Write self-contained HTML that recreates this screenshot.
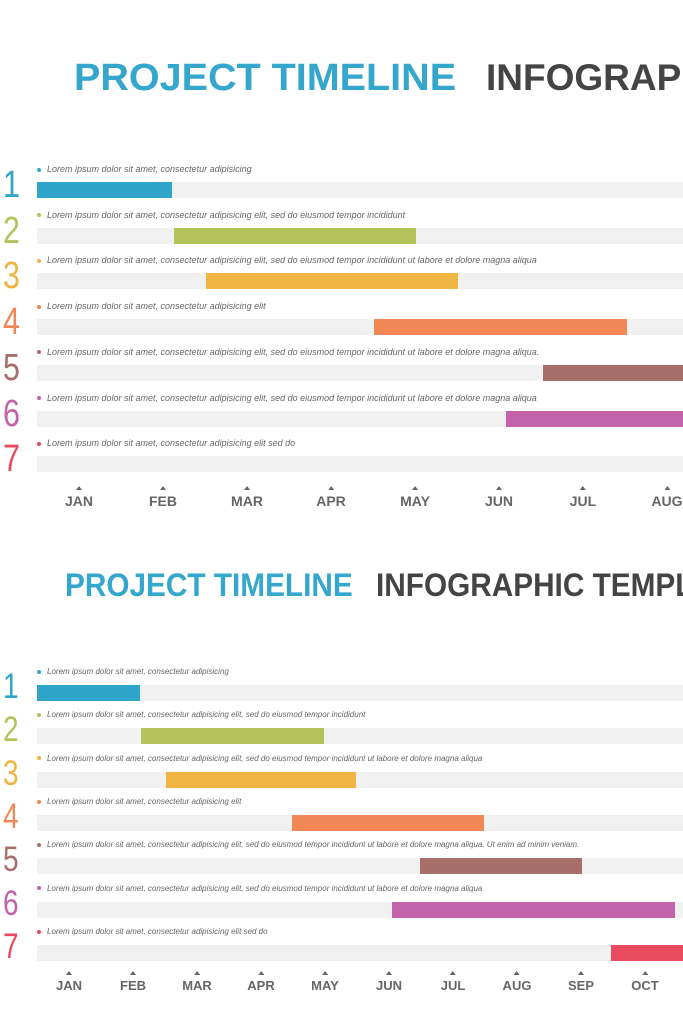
<!DOCTYPE html>
<html><head><meta charset="utf-8"><style>
*{margin:0;padding:0;box-sizing:border-box}
html,body{width:683px;height:1024px;overflow:hidden}
body{background:#fff;position:relative;font-family:"Liberation Sans",sans-serif}
.a{position:absolute;white-space:nowrap}
.t1{font-weight:bold;color:#35a7cc}
.t2{font-weight:bold;color:#444}
.n{font-family:"Liberation Sans Narrow","Liberation Sans",sans-serif;font-weight:normal}
.tr{position:absolute;left:37px;right:0;background:#f1f1f1}
.b{position:absolute}
.tx{font-style:italic;color:#666}
.m{font-weight:bold;color:#666;transform:translateX(-50%);text-align:center}
.m:before{content:"";position:absolute;left:50%;top:-7px;margin-left:-3px;border-left:3px solid transparent;border-right:3px solid transparent;border-bottom:4px solid #666}
.dot{display:inline-block;width:4px;height:4px;border-radius:50%;margin-right:6px;vertical-align:middle}
</style></head><body>
<div style="position:absolute;left:0;top:0;width:683px;height:1024px;overflow:hidden">
<div class="a t1" style="left:74px;top:57px;font-size:38px;transform:scaleX(1.04);transform-origin:left">PROJECT TIMELINE</div>
<div class="a t2" style="left:486px;top:57px;font-size:37px">INFOGRAPHIC</div>

<div id="top"></div>
<div class="a t1" style="left:65px;top:567px;font-size:32px;transform:scaleX(0.93);transform-origin:left">PROJECT TIMELINE</div>
<div class="a t2" style="left:376px;top:567px;font-size:32px;transform:scaleX(0.93);transform-origin:left">INFOGRAPHIC TEMPLATE</div>
</div>
<script>
const cols=["#2fa6c9","#b3c25a","#f0b443","#f08755","#a86e6a","#c362a8","#e84a5f"];
const txt=["Lorem ipsum dolor sit amet, consectetur adipisicing",
"Lorem ipsum dolor sit amet, consectetur adipisicing elit, sed do eiusmod tempor incididunt",
"Lorem ipsum dolor sit amet, consectetur adipisicing elit, sed do eiusmod tempor incididunt ut labore et dolore magna aliqua",
"Lorem ipsum dolor sit amet, consectetur adipisicing elit",
"Lorem ipsum dolor sit amet, consectetur adipisicing elit, sed do eiusmod tempor incididunt ut labore et dolore magna aliqua.",
"Lorem ipsum dolor sit amet, consectetur adipisicing elit, sed do eiusmod tempor incididunt ut labore et dolore magna aliqua",
"Lorem ipsum dolor sit amet, consectetur adipisicing elit sed do"];
const txt2=txt.slice();txt2[4]=txt[4]+" Ut enim ad minim veniam.";
let h="";
function sec(t0,pitch,barH,bars,fs,numFs,texts,months,m0,mstep,my,mfs){
 for(let i=0;i<7;i++){
  const ty=t0+i*pitch, by=ty+13;
  h+=`<div class="a tx" style="left:37px;top:${ty-6}px;font-size:${fs}px;line-height:12px"><span class="dot" style="background:${cols[i]}"></span>${texts[i]}</div>`;
  h+=`<div class="tr" style="top:${by}px;height:${barH}px"></div>`;
  if(bars[i])h+=`<div class="b" style="left:${bars[i][0]}px;width:${bars[i][1]-bars[i][0]}px;top:${by}px;height:${barH}px;background:${cols[i]}"></div>`;
  h+=`<div class="a n" style="left:3px;top:${ty-3}px;font-size:${numFs}px;line-height:${numFs}px;color:${cols[i]};transform:scaleX(0.8);transform-origin:left">${i+1}</div>`;
 }
 months.forEach((m,j)=>{h+=`<div class="a m" style="left:${m0+j*mstep}px;top:${my}px;font-size:${mfs}px">${m}</div>`});
}
sec(169,45.7,16,[[37,172],[174,416],[206,458],[374,627],[543,683],[506,683],null],9,38,txt,
 ["JAN","FEB","MAR","APR","MAY","JUN","JUL","AUG"],79,84,493,14);
sec(672,43.3,16,[[37,140],[141,324],[166,356],[292,484],[420,582],[392,675],[611,683]],8,35,txt2,
 ["JAN","FEB","MAR","APR","MAY","JUN","JUL","AUG","SEP","OCT"],69,64,978,13);
document.getElementById("top").outerHTML=h;
</script>
</body></html>
